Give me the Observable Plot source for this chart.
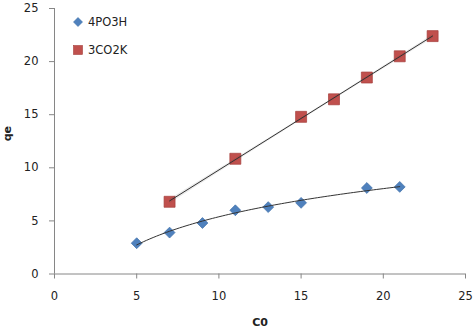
<!DOCTYPE html>
<html><head><meta charset="utf-8">
<script src="https://cdn.jsdelivr.net/npm/d3@7"></script>
<script src="https://cdn.jsdelivr.net/npm/@observablehq/plot@0.6"></script>
<style>
body{margin:0;background:#fff;}
#wrap{position:relative;width:474px;height:332px;}
.leg{position:absolute;left:72px;font:11.5px "DejaVu Sans",sans-serif;color:#222;display:flex;align-items:center;white-space:nowrap;}
.leg svg{margin-right:4px;}
</style></head><body><div id="wrap"></div>
<script>
const seriesNames = ["4PO3H", "3CO2K"];
const seriesColors = ["#4f81bd", "#c0504d"];
const seriesStrokes = ["#3d6ea8", "#a53e3b"];
const c0_4PO3H = [5, 7, 9, 11, 13, 15, 19, 21];
const qe_4PO3H = [2.9, 3.9, 4.8, 6.0, 6.3, 6.7, 8.1, 8.2];
const c0_3CO2K = [7, 11, 15, 17, 19, 21, 23];
const qe_3CO2K = [6.8, 10.85, 14.8, 16.45, 18.5, 20.5, 22.4];
const xTicks = [0, 5, 10, 15, 20, 25];
const yTicks = [0, 5, 10, 15, 20, 25];
const xLabel = "C0";
const yLabel = "qe";

const blue = c0_4PO3H.map((x, i) => ({x, y: qe_4PO3H[i]}));
const red = c0_3CO2K.map((x, i) => ({x, y: qe_3CO2K[i]}));

// logarithmic trendline for 4PO3H: y = a ln(x) + c (least squares)
const lx = blue.map(d => Math.log(d.x)), ys = blue.map(d => d.y);
const mx = d3.mean(lx), my = d3.mean(ys);
const a = d3.sum(lx, (v, i) => (v - mx) * (ys[i] - my)) / d3.sum(lx, v => (v - mx) ** 2);
const c = my - a * mx;
const [x0, x1] = d3.extent(c0_4PO3H);
const curve = d3.range(0, 81).map(k => { const x = x0 + (x1 - x0) * k / 80; return {x, y: a * Math.log(x) + c}; });

const axisColor = "#868686";
const chart = Plot.plot({
  width: 474, height: 332,
  marginLeft: 54, marginRight: 9, marginTop: 8, marginBottom: 58.5,
  style: {fontFamily: "DejaVu Sans, sans-serif", fontSize: "11.5px", color: "#222", background: "#fff"},
  x: {domain: [0, 25]},
  y: {domain: [0, 25]},
  marks: [
    Plot.axisX({ticks: xTicks, tickSize: 5, tickPadding: 13, stroke: axisColor, fill: "#222", label: null}),
    Plot.axisY({ticks: yTicks, tickSize: 5, tickPadding: 11, stroke: axisColor, fill: "#222", label: null}),
    Plot.ruleY([0], {stroke: axisColor}),
    Plot.ruleX([0], {stroke: axisColor}),
    Plot.dot(blue, {x: "x", y: "y", symbol: "diamond2", r: 4.9, fill: seriesColors[0], stroke: seriesStrokes[0], strokeWidth: 0.7}),
    Plot.dot(red, {x: "x", y: "y", symbol: "square", r: 6.2, fill: seriesColors[1], stroke: seriesStrokes[1], strokeWidth: 0.7}),
    Plot.line(curve, {x: "x", y: "y", stroke: "#333", strokeWidth: 1}),
    Plot.linearRegressionY(red, {x: "x", y: "y", stroke: "#333", strokeWidth: 1, strokeOpacity: 1}),
    Plot.text([xLabel], {frameAnchor: "bottom", dy: 52, fontWeight: "bold", fontSize: 11, fill: "#222"}),
    Plot.text([yLabel], {frameAnchor: "left", dx: -47, rotate: -90, fontWeight: "bold", fontSize: 11, fill: "#222"})
  ]
});
const wrap = document.getElementById("wrap");
wrap.appendChild(chart);

// legend
const legendTops = [15, 43];
seriesNames.forEach((name, i) => {
  const div = document.createElement("div");
  div.className = "leg";
  div.style.top = legendTops[i] + "px";
  const sym = i === 0
    ? `<svg width="12" height="12"><path d="M6,1.5L10.5,6L6,10.5L1.5,6Z" fill="${seriesColors[0]}" stroke="${seriesStrokes[0]}" stroke-width="0.6"/></svg>`
    : `<svg width="12" height="12"><rect x="1.5" y="1.5" width="9" height="9" fill="${seriesColors[1]}" stroke="${seriesStrokes[1]}" stroke-width="0.6"/></svg>`;
  div.innerHTML = sym + `<span>${name}</span>`;
  wrap.appendChild(div);
});
</script></body></html>
